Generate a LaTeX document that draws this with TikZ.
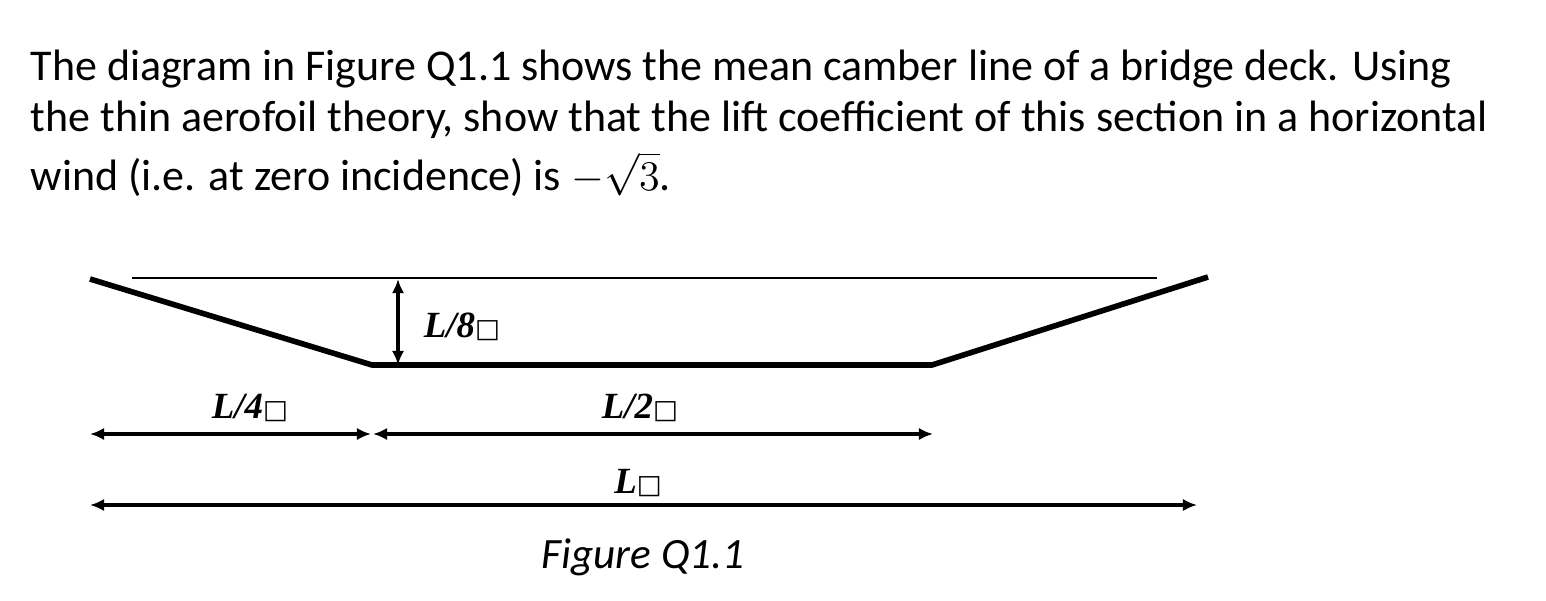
\documentclass[tikz,border=0pt]{standalone}
\usepackage{fontspec}
\setmainfont{Carlito}
\newfontfamily\lbl{Liberation Serif}
\newfontfamily\symf{DejaVu Sans}
\usetikzlibrary{arrows.meta}
\tikzset{
  txt/.style={anchor=base west,inner sep=0,font=\fontsize{12.5pt}{14pt}\selectfont},
  dim/.style={line width=0.9pt,{Latex[length=4pt,width=3.5pt]}-{Latex[length=4pt,width=3.5pt]}},
  deck/.style={line width=1.6pt},
  lab/.style={inner sep=0,font=\fontsize{10.5pt}{12pt}\selectfont\lbl\bfseries\itshape}
}
\newcommand{\bx}{{\symf\fontsize{7.5pt}{8pt}\selectfont\upshape\mdseries □}}
\begin{document}
\begin{tikzpicture}[x=0.01cm,y=-0.01cm]
\useasboundingbox (0,0) rectangle (1546,600);
\node[txt] (t1) at (30,80) {The diagram in Figure Q1.1 shows the mean camber line of a bridge deck. Using};
\node[txt] (t2) at (30,131) {the thin aerofoil theory, show that the lift coefficient of this section in a horizontal};
\node[txt] (t3) at (30,190) {wind (i.e. at zero incidence) is $-\sqrt{3}$.};
\coordinate (r1) at (132,278); \coordinate (r2) at (1157,278);
\draw[line width=0.5pt] (r1) -- (r2);
\coordinate (a) at (90,279); \coordinate (b) at (372,365);
\coordinate (c) at (932,365); \coordinate (d) at (1208,277);
\draw[deck] (a) -- (b) -- (c) -- (d);
\coordinate (v1) at (398,279); \coordinate (v2) at (398,365);
\draw[dim] (v1) -- (v2);
\node[lab] (l8) at (462,327) {L/8\bx};
\coordinate (h1) at (90,434); \coordinate (h2) at (371,434);
\coordinate (h3) at (373,434); \coordinate (h4) at (933,434);
\draw[dim] (h1) -- (h2);
\draw[dim] (h3) -- (h4);
\node[lab] (l4) at (250,408) {L/4\bx};
\node[lab] (l2) at (640,408) {L/2\bx};
\coordinate (g1) at (90,505); \coordinate (g2) at (1197,505);
\draw[dim] (g1) -- (g2);
\node[lab] (ll) at (638,483) {L\bx};
\node[inner sep=0,font=\fontsize{12.3pt}{14pt}\selectfont\itshape] (fig) at (643,557) {Figure Q1.1};
\end{tikzpicture}
\end{document}
